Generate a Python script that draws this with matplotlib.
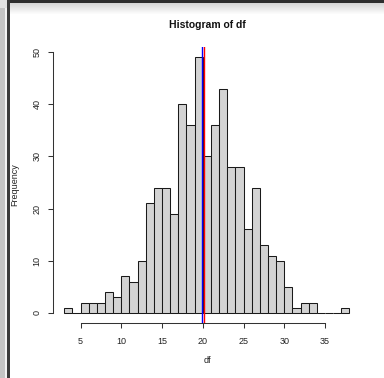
import numpy as np
import matplotlib
matplotlib.use("Agg")
import matplotlib.pyplot as plt
from matplotlib.patches import Rectangle

plt.rcParams['font.family'] = ['Liberation Sans', 'DejaVu Sans']

# histogram of df: unit-width bins starting at 3
bin_starts = list(range(3, 38))
counts = [1, 0, 2, 2, 2, 4, 3, 7, 6, 10, 21, 24, 24, 19, 40, 36, 49, 30,
          36, 43, 28, 28, 16, 24, 13, 11, 10, 5, 1, 2, 2, 0, 0, 0, 1]
x_ticks = [5, 10, 15, 20, 25, 30, 35]
y_ticks = [0, 10, 20, 30, 40, 50]
blue_line = 19.96   # vertical reference lines
red_line = 20.12

W, H = 384, 378
fig = plt.figure(figsize=(W / 100, H / 100), dpi=100)
fig.patch.set_facecolor('white')


def px_rect(x0, y0, x1, y1, color):
    # rectangle given in pixel coords (origin top-left)
    fig.patches.append(Rectangle((x0 / W, 1 - y1 / H), (x1 - x0) / W, (y1 - y0) / H,
                                 transform=fig.transFigure, facecolor=color,
                                 edgecolor='none', zorder=0))


# screenshot window frame
px_rect(0, 0, 5, H, '#c4c4c4')
px_rect(0, 0, 7, 8, '#e2e2e2')
px_rect(5, 8, 7, H, '#f2f2f2')
px_rect(7, 0, 10, H, '#3a3a3a')
px_rect(10, 0, W, 3, '#2e2e2e')
for i, g in enumerate(np.linspace(0.84, 1.0, 12)):
    px_rect(10, 3 + i, W, 4 + i, (g, g, g))

left, right, top, bottom = 52.8, 360.9, 47.0, 323.2
ax = fig.add_axes([left / W, 1 - bottom / H, (right - left) / W, (bottom - top) / H])
ax.set_facecolor('none')

ax.bar(bin_starts, counts, width=1, align='edge', color='#d3d3d3',
       edgecolor='#1a1a1a', linewidth=0.75)
ax.axvline(blue_line, color='blue', linewidth=1.0)
ax.axvline(red_line, color='red', linewidth=1.0)

ax.set_xlim(1.6, 39.4)
ax.set_ylim(-1.96, 50.96)
for s in ['top', 'right']:
    ax.spines[s].set_visible(False)
ax.spines['bottom'].set_bounds(x_ticks[0], x_ticks[-1])
ax.spines['left'].set_bounds(y_ticks[0], y_ticks[-1])
for s in ['bottom', 'left']:
    ax.spines[s].set_linewidth(0.75)
    ax.spines[s].set_color('#333333')

ax.set_xticks(x_ticks)
ax.set_yticks(y_ticks)
ax.set_yticklabels([str(v) for v in y_ticks], rotation=90, va='center')
ax.tick_params(axis='both', length=3.6, width=0.75, color='#333333',
               labelsize=6.5, labelcolor='#222222')
ax.tick_params(axis='x', pad=6.5)
ax.tick_params(axis='y', pad=4.5)

fig.text(207 / W, 1 - 25.5 / H, 'Histogram of df', ha='center', va='center',
         fontsize=7.5, fontweight='bold', color='#111111')
fig.text(207 / W, 1 - 360.5 / H, 'df', ha='center', va='center',
         fontsize=6.5, color='#222222')
fig.text(15 / W, 1 - 185 / H, 'Frequency', ha='center', va='center',
         rotation=90, fontsize=6.5, color='#222222')

fig.savefig('out.png', dpi=100)
